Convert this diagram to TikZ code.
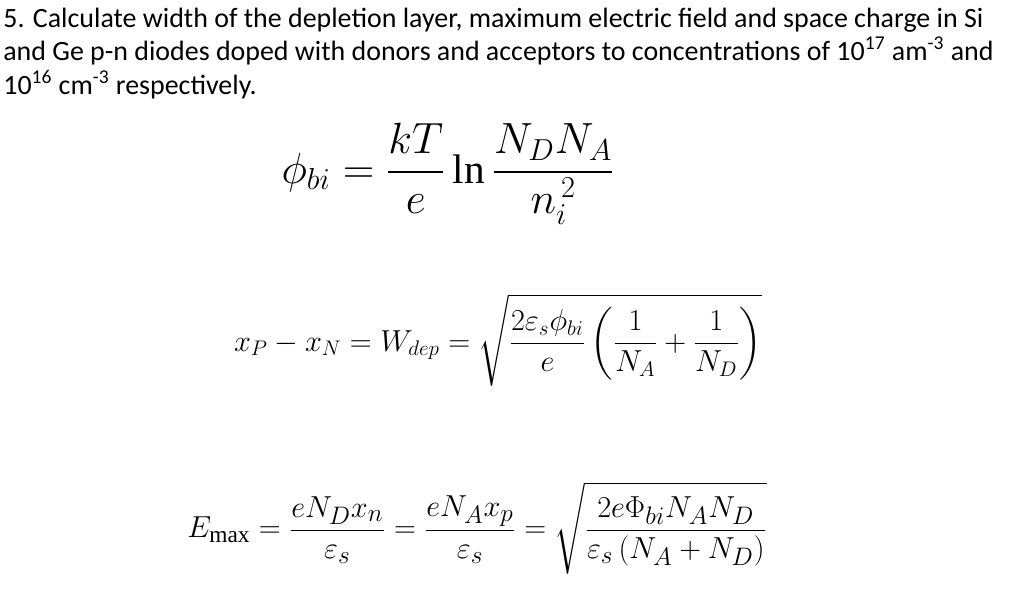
\documentclass[tikz,border=0pt]{standalone}
\usepackage{amsmath}
\usepackage{fontspec}
\setmainfont{Liberation Serif}
\newfontfamily\txtfont{Carlito}
\begin{document}
\begin{tikzpicture}[x=0.02cm,y=-0.02cm,
  txt/.style={anchor=west,inner sep=0pt,font=\txtfont\fontsize{15.9}{18}\selectfont},
  eq/.style={inner sep=0pt,font=\fontsize{19}{23}\selectfont}]
\useasboundingbox (0,0) rectangle (1020,590);
\node[txt] (l1) at (3,20) {5. Calculate width of the depletion layer, maximum electric field and space charge in Si};
\node[txt] (l2) at (3,51) {and Ge p-n diodes doped with donors and acceptors to concentrations of 10\textsuperscript{17} am\textsuperscript{-3} and};
\node[txt] (l3) at (3,85) {10\textsuperscript{16} cm\textsuperscript{-3} respectively.};
\node[eq,font=\fontsize{23.5}{28}\selectfont] (e1) at (448,174) {$\displaystyle \phi_{bi}=\frac{kT}{e}\ln\frac{N_DN_A}{n_i^{\,2}}$};
\node[eq,font=\fontsize{17.5}{21}\selectfont] (e2) at (498,340) {$\displaystyle x_P-x_N=W_{dep}=\sqrt{\frac{2\varepsilon_s\phi_{bi}}{e}\left(\frac{1}{N_A}+\frac{1}{N_D}\right)}$};
\node[eq,font=\fontsize{19}{23}\selectfont] (e3) at (477,528) {$\displaystyle E_{\max}=\frac{eN_Dx_n}{\varepsilon_s}=\frac{eN_Ax_p}{\varepsilon_s}=\sqrt{\frac{2e\Phi_{bi}N_AN_D}{\varepsilon_s\left(N_A+N_D\right)}}$};
\end{tikzpicture}
\end{document}
